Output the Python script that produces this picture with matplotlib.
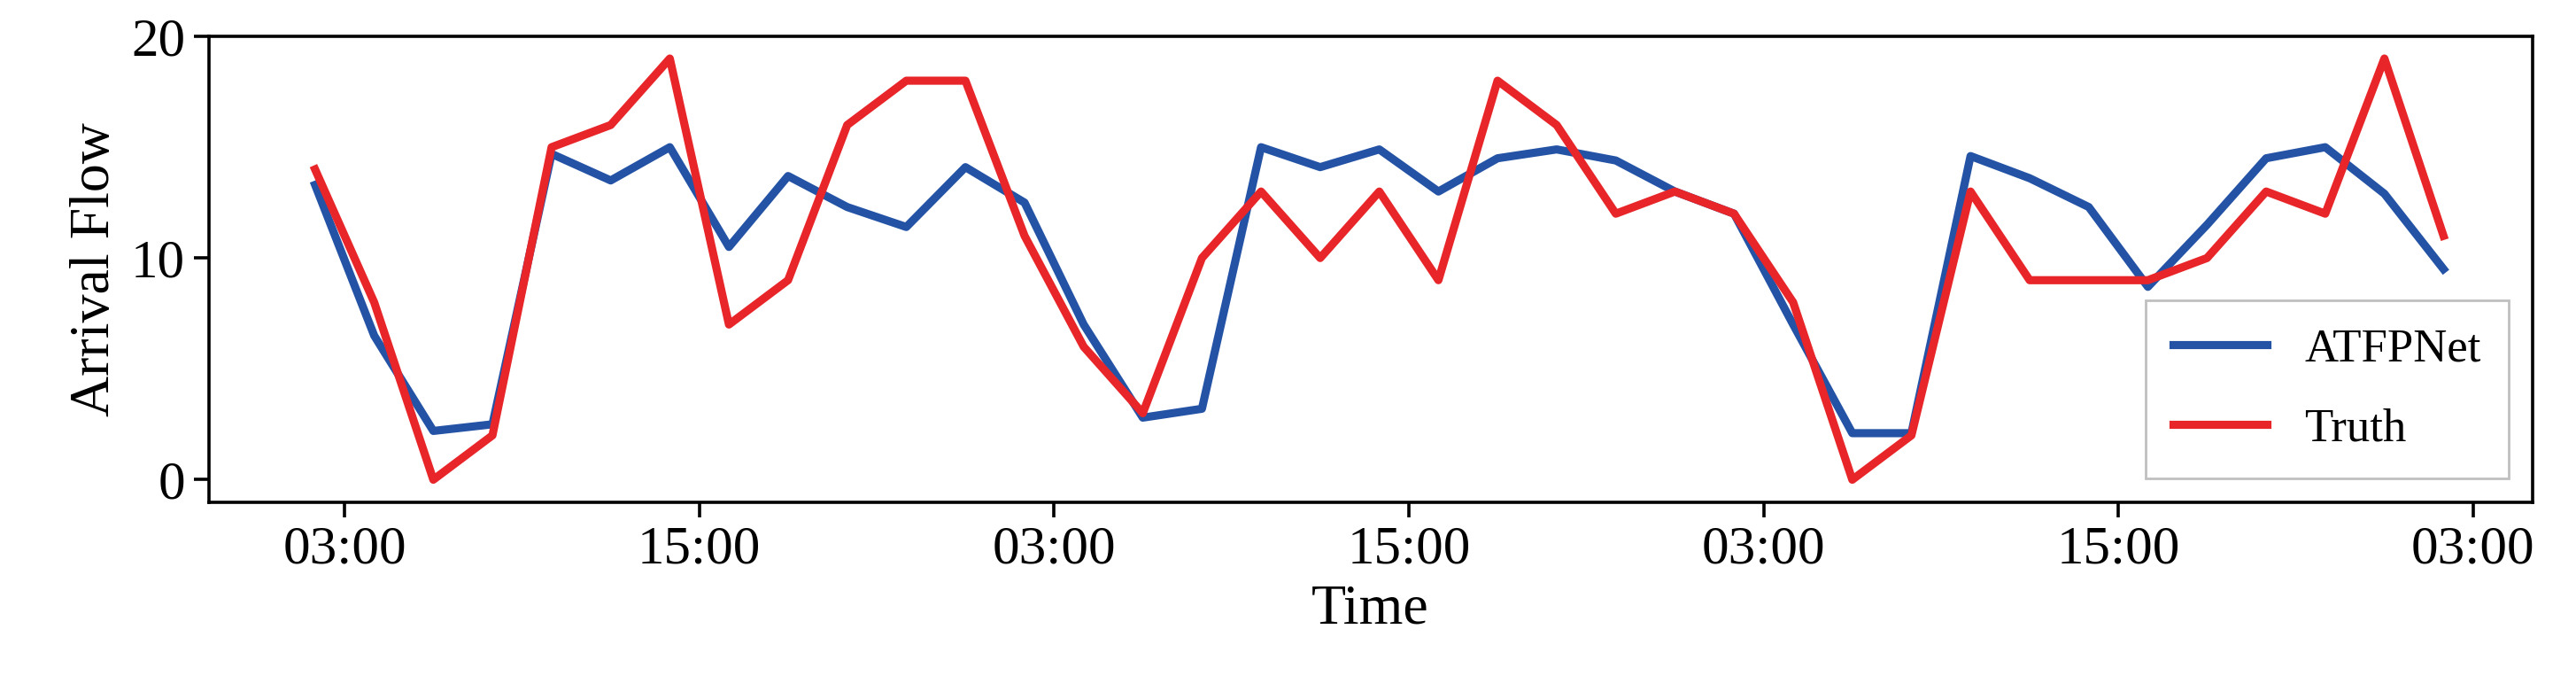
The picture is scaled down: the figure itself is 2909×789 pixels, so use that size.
import matplotlib
matplotlib.use("Agg")
import matplotlib.pyplot as plt

hours = list(range(2, 75, 2))
truth = [14, 8, 0, 2, 15, 16, 19, 7, 9, 16, 18, 18, 11, 6, 3, 10, 13, 10, 13, 9,
         18, 16, 12, 13, 12, 8, 0, 2, 13, 9, 9, 9, 10, 13, 12, 19, 11]
atfpnet = [13.3, 6.5, 2.2, 2.5, 14.7, 13.5, 15, 10.5, 13.7, 12.3, 11.4, 14.1, 12.5, 7,
           2.8, 3.2, 15, 14.1, 14.9, 13, 14.5, 14.9, 14.4, 13, 12, 7, 2.1, 2.1, 14.6,
           13.6, 12.3, 8.7, 11.5, 14.5, 15, 12.9, 9.5]
tick_pos = [3, 15, 27, 39, 51, 63, 75]
tick_labels = ["03:00", "15:00", "03:00", "15:00", "03:00", "15:00", "03:00"]

plt.rcParams['font.family'] = ['Liberation Serif', 'DejaVu Serif']
fig = plt.figure(figsize=(14.545, 3.945), dpi=200)
ax = fig.add_axes([0.081, 0.282, 0.902, 0.666])
ax.plot(hours, atfpnet, color='#2453a6', lw=3.3, label='ATFPNet')
ax.plot(hours, truth, color='#e8262a', lw=3.3, label='Truth')
ax.set_xlim(-1.6, 77)
ax.set_ylim(-1, 20)
ax.set_xticks(tick_pos)
ax.set_xticklabels(tick_labels)
ax.set_yticks([0, 10, 20])
ax.tick_params(labelsize=22, width=1.3, length=6)
for s in ax.spines.values():
    s.set_linewidth(1.3)
ax.set_xlabel('Time', fontsize=23)
ax.set_ylabel('Arrival Flow', fontsize=23)
leg = ax.legend(loc='lower right', fontsize=19, fancybox=False, edgecolor='#b0b0b0',
                handlelength=2.0, borderpad=0.6, labelspacing=0.8)
fig.savefig('out.png', dpi=200)
